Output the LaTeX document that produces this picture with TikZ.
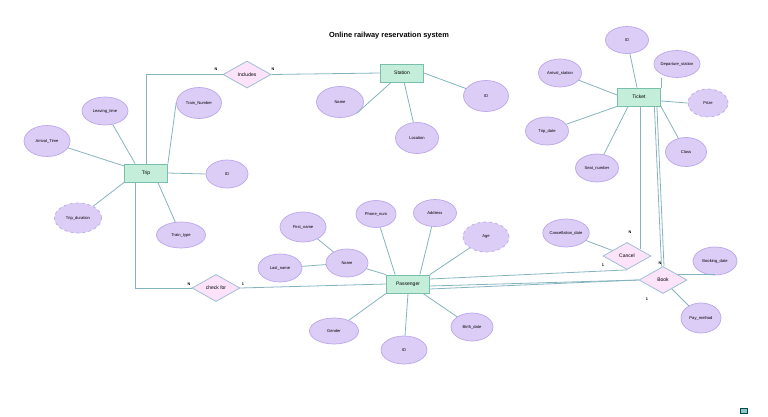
\documentclass[tikz,border=0pt]{standalone}
\usepackage{fontspec}
\setmainfont{Liberation Sans}
\usetikzlibrary{shapes.geometric}
\definecolor{entfill}{HTML}{C4EEDA}
\definecolor{entdraw}{HTML}{78BFAE}
\definecolor{attfill}{HTML}{DCCDF6}
\definecolor{attdraw}{HTML}{BBA6EC}
\definecolor{relfill}{HTML}{FCE3FA}
\definecolor{reldraw}{HTML}{9FBFD2}
\definecolor{linecol}{HTML}{86B4BE}
\tikzset{
  ent/.style={draw=entdraw, fill=entfill, line width=0.8pt, rectangle, inner sep=0pt, minimum width=43pt, minimum height=18pt, font=\fontsize{5}{6}\selectfont},
  att/.style={draw=attdraw, fill=attfill, line width=0.7pt, ellipse, inner sep=0pt, minimum width=44pt, minimum height=28pt, font=\fontsize{4.1}{5}\selectfont},
  datt/.style={att, dashed},
  rel/.style={draw=reldraw, fill=relfill, line width=0.8pt, diamond, inner sep=0pt, minimum width=48pt, minimum height=27pt, font=\fontsize{5}{6}\selectfont},
  conn/.style={draw=linecol, line width=0.8pt},
  card/.style={font=\fontsize{3.8}{4}\selectfont\bfseries, inner sep=0pt},
}
\begin{document}
\begin{tikzpicture}[x=1pt, y=-1pt]
\useasboundingbox[fill=white] (0,0) rectangle (768,417);
\node[font=\fontsize{7.4}{8}\selectfont\bfseries] (title) at (389,36) {Online railway reservation system};

% entities
\node[ent] (trip) at (146,173) {Trip};
\node[ent] (station) at (402,73) {Station};
\node[ent] (ticket) at (639,97) {Ticket};
\node[ent] (pass) at (408,284) {Passenger};

% relationships
\node[rel] (incl) at (247,74.5) {Includes};
\node[rel] (check) at (216,288) {check for};
\node[rel] (cancel) at (627,256) {Cancel};
\node[rel] (book) at (663,280) {Book};

% trip attributes
\node[att, minimum width=46pt] (leave) at (105,111) {Leaving\_time};
\node[att, minimum width=46pt, minimum height=31pt] (arr) at (47,141) {Arrival\_Time};
\node[att, minimum width=45pt, minimum height=31pt] (trainno) at (199,103) {Train\_Number};
\node[att, minimum width=42pt] (tripid) at (227,174) {ID};
\node[datt, minimum width=47pt, minimum height=30pt] (tripdur) at (78,218) {Trip\_duration};
\node[att, minimum width=49pt, minimum height=26pt] (ttype) at (181,235) {Train\_type};

% station attributes
\node[att, minimum width=47pt, minimum height=31pt] (sname) at (340,102) {Name};
\node[att, minimum width=45pt, minimum height=31pt] (sid) at (486,96) {ID};
\node[att, minimum width=43pt, minimum height=31pt] (sloc) at (417,138) {Location};

% ticket attributes
\node[att, minimum width=43pt, minimum height=27pt] (tid) at (627,40) {ID};
\node[att, minimum width=45pt, minimum height=27pt] (dep) at (677,64) {Departure\_station};
\node[att, minimum width=43pt] (arrst) at (560,73) {Arrival\_station};
\node[datt, minimum width=40pt] (prize) at (708,103) {Prize};
\node[att, minimum width=43pt] (tdate) at (547,131) {Trip\_date};
\node[att, minimum width=41pt, minimum height=29pt] (class) at (686,152) {Class};
\node[att, minimum width=43pt] (seat) at (597,168) {Seat\_number};

% passenger attributes
\node[att, minimum width=46pt, minimum height=30pt] (fname) at (303,227) {First\_name};
\node[att, minimum width=40pt, minimum height=27pt] (phone) at (376,214) {Phone\_num};
\node[att, minimum width=43pt, minimum height=27pt] (addr) at (435,213) {Address};
\node[datt, minimum width=46pt, minimum height=30pt] (age) at (486,237) {Age};
\node[att, minimum width=42pt] (pname) at (347,263) {Name};
\node[att, minimum width=44pt] (lname) at (280,268) {Last\_name};
\node[att, minimum width=49pt, minimum height=26pt] (gender) at (334,331) {Gender};
\node[att, minimum width=46pt] (pid) at (404,350) {ID};
\node[att, minimum width=42pt] (birth) at (472,327) {Birth\_date};

% relationship attributes
\node[att, minimum width=45pt] (cdate) at (566,233) {Cancellation\_date};
\node[att, minimum width=44pt] (bdate) at (715,261) {Booking\_date};
\node[att, minimum width=40pt, minimum height=30pt] (paym) at (701,318) {Pay\_method};

% trip attribute links
\draw[conn] (trip.north west)++(11,0) -- (leave);
\draw[conn] (trip.west)++(0,-7) -- (arr);
\draw[conn] (trip.north east) -- (trainno.west);
\draw[conn] (trip.east) -- (tripid.west);
\draw[conn] (trip.south west) -- (tripdur);
\draw[conn] (trip.south east)++(-10,0) -- (ttype);

% station links
\draw[conn] (station.south west)++(11,0) -- (sname.south east);
\draw[conn] (station) -- (sloc);
\draw[conn] (station.east) -- (sid);

% ticket links
\draw[conn] (ticket) -- (tid);
\draw[conn] (ticket.west)++(0,-2) -- (arrst);
\draw[conn] (ticket.north east) -- (ticket.north east |- dep.south);
\draw[conn] (ticket.east)++(0,4) -- (prize.west);
\draw[conn] (ticket.south east) -- (class);
\draw[conn] (ticket.south west) -- (tdate);
\draw[conn] (ticket.south west)++(11,0) -- (seat);

% passenger links
\draw[conn] (pass.north west) -- (pname);
\draw[conn] (pname) -- (fname);
\draw[conn] (pname) -- (lname);
\draw[conn] (pass.north west)++(9,0) -- (phone);
\draw[conn] (pass.north east)++(-10,0) -- (addr);
\draw[conn] (pass.north east) -- (age);
\draw[conn] (pass.south west) -- (gender);
\draw[conn] (pass.south) -- (pid);
\draw[conn] (pass.south east)++(-7,0) -- (birth);

% relationship attribute links
\draw[conn] (cancel) -- (cdate);
\draw[conn] (book.east)++(-9,-6) coordinate (b1) -- (b1 -| bdate.south);
\draw[conn] (book) -- (paym);

% trip - includes - station
\draw[conn] (trip.north) |- (incl.west);
\draw[conn] (incl.east) -- (station.west);
\node[card] (n1) at (216,69) {N};
\node[card] (n2) at (273,69) {N};

% trip - check for - passenger
\draw[conn] (trip.south west)++(11,0) |- (check.west);
\draw[conn] (check.east) -- (pass.west);
\node[card] (n3) at (189,284) {N};
\node[card] (n4) at (243,284) {1};

% ticket - cancel - passenger
\draw[conn] (ticket.south)++(1,0) coordinate (tc) -- (tc |- cancel.north east);
\draw[conn] (pass.east)++(0,-5) -- (cancel.south);
\node[card] (n5) at (630,232) {N};
\node[card] (n6) at (603,265) {1};

% ticket - book (double) - passenger (double)
\draw[conn] (ticket.south east)++(-6.5,0) -- ([xshift=-1.5pt]book.north);
\draw[conn] (ticket.south east)++(-4,0) -- ([xshift=1pt]book.north);
\draw[conn] (pass.east)++(0,2) -- (book.west);
\draw[conn] (pass.east)++(0,5) -- (book.west);
\node[card] (n7) at (660,263) {N};
\node[card] (n8) at (647,299) {1};

% corner icon
\node[draw=teal!60!black, fill=teal!45, line width=0.6pt, minimum width=7pt, minimum height=5pt, inner sep=0pt] (icon) at (744,411) {};
\end{tikzpicture}
\end{document}
